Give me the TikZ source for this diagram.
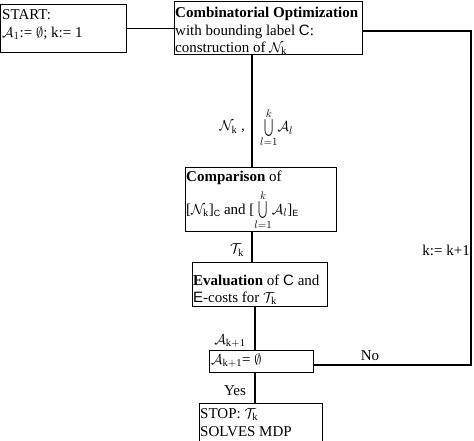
\documentclass[tikz,border=0pt]{standalone}
\usepackage{graphicx}
\usepackage{fontspec}
\setmainfont{Liberation Serif}
\newfontfamily\sflab{Liberation Sans}
\newcommand\tallcup{\mathop{\vcenter{\hbox{\scalebox{1.1}[1.7]{$\bigcup$}}}}\limits}
\begin{document}
\begin{tikzpicture}[x=1pt,y=-1pt,
  box/.style={draw, line width=1.1pt, inner sep=0pt, anchor=north west},
  txt/.style={anchor=base west, inner sep=0pt, font=\fontsize{15}{17}\selectfont},
  lbl/.style={inner sep=0pt, font=\fontsize{15}{17}\selectfont},
  conn/.style={line width=1.1pt}]
\useasboundingbox (0,0) rectangle (474,440);
\begin{scope}
\clip (0,0) rectangle (474,440);
% boxes
\node[box, minimum width=126pt, minimum height=48pt] (start) at (0,4) {};
\node[box, minimum width=188pt, minimum height=53pt] (comb) at (174,1) {};
\node[box, minimum width=151pt, minimum height=64pt] (cmp) at (185,167) {};
\node[box, minimum width=135pt, minimum height=44pt] (eval) at (192,262) {};
\node[box, minimum width=104pt, minimum height=22pt] (dec) at (209,350) {};
\node[box, minimum width=123pt, minimum height=50pt] (stop) at (199,403) {};
% texts in boxes
\node[txt] (s1) at (2,19) {START:};
\node[txt] (s2) at (2,37) {$\mathcal{A}_1$:= $\emptyset$; k:= 1};
\node[txt] (c1) at (175,17) {\textbf{Combinatorial Optimization}};
\node[txt] (c2) at (175,35) {with bounding label {\sflab C}:};
\node[txt] (c3) at (175,52) {construction of $\mathcal{N}_\mathrm{k}$};
\node[txt] (m1) at (186,181) {\textbf{Comparison} of};
\node[txt] (m2) at (186,214) {[$\mathcal{N}_\mathrm{k}$]\raisebox{-2pt}{\sflab\small C} and [$\tallcup_{l=1}^{k}\!\mathcal{A}_l$]\raisebox{-2pt}{\sflab\small E}};
\node[txt] (e1) at (193,285) {\textbf{Evaluation} of {\sflab C} and};
\node[txt] (e2) at (193,302) {{\sflab E}-costs for $\mathcal{T}_\mathrm{k}$};
\node[txt] (d1) at (211,364) {$\mathcal{A}_\mathrm{k+1}$= $\emptyset$};
\node[txt] (t1) at (200,418) {STOP: $\mathcal{T}_\mathrm{k}$};
\node[txt] (t2) at (200,436) {SOLVES MDP};
\end{scope}
% helper coordinates
\coordinate (v1) at (252,0);
\coordinate (v2) at (255,0);
\coordinate (tr) at (471,31);
\coordinate (br) at (471,365);
% connectors
\draw[conn] (start.east) -- (comb.west |- start.east);
\draw[conn] (comb.east |- tr) -- (tr) -- (br) -- (dec.east |- br);
\draw[conn] (comb.south -| v1) -- (cmp.north -| v1);
\draw[conn] (cmp.south -| v1) -- (eval.north -| v1);
\draw[conn] (eval.south -| v2) -- (dec.north -| v2);
\draw[conn] (dec.south -| v2) -- (stop.north -| v2);
% labels
\node[lbl, anchor=east] (lN) at (245,127) {$\mathcal{N}_\mathrm{k}$ ,};
\node[lbl, anchor=west] (lU) at (260,128) {$\tallcup_{l=1}^{k}\!\mathcal{A}_l$};
\node[lbl] (lT) at (237,250) {$\mathcal{T}_\mathrm{k}$};
\node[lbl, anchor=east] (lK) at (470,250) {k:= k+1};
\node[lbl] (lA) at (230,341) {$\mathcal{A}_\mathrm{k+1}$};
\node[lbl] (lNo) at (370,356) {No};
\node[lbl] (lY) at (235,391) {Yes};
\end{tikzpicture}
\end{document}
